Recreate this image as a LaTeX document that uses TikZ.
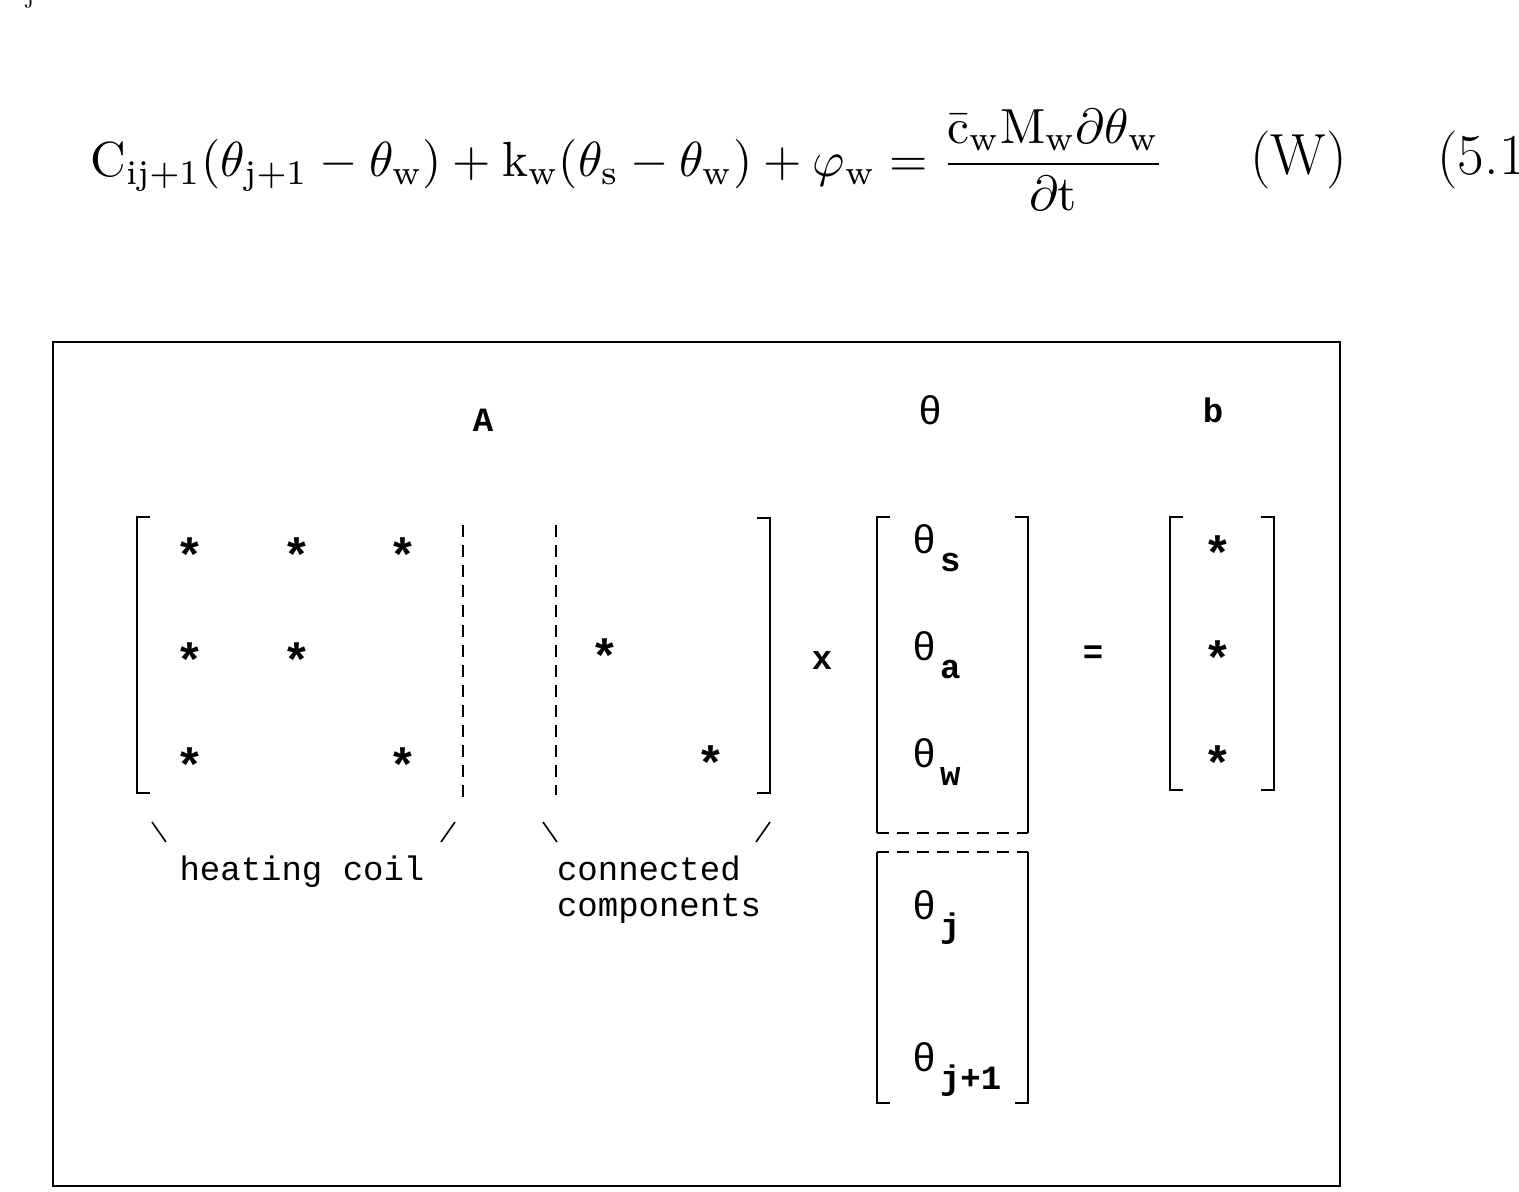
\documentclass[tikz,border=0pt]{standalone}
\usepackage{fontspec}
\setmonofont{Liberation Mono}
\usepackage{graphicx}
\begin{document}
\begin{tikzpicture}[x=0.5pt,y=-0.5pt,
  mono/.style={font=\fontsize{17}{20}\selectfont\ttfamily},
  bmono/.style={font=\fontsize{17}{20}\selectfont\ttfamily\bfseries},
  star/.style={font=\fontsize{24}{24}\selectfont\ttfamily\bfseries},
  br/.style={line width=0.8pt},
  dsh/.style={line width=0.8pt,dash pattern=on 6pt off 4pt}]
\useasboundingbox (0,0) rectangle (1519,1191);
% top fragment
\node (frag) at (30,-4) {\fontsize{14}{14}\selectfont j};
% equation
\node[anchor=west,inner sep=0] (eq) at (90,160) {\resizebox{537pt}{!}{$\displaystyle\mathrm{C}_{\mathrm{ij+1}}(\theta_{\mathrm{j+1}}-\theta_{\mathrm{w}})+\mathrm{k}_{\mathrm{w}}(\theta_{\mathrm{s}}-\theta_{\mathrm{w}})+\varphi_{\mathrm{w}}=\frac{\bar{\mathrm{c}}_{\mathrm{w}}\mathrm{M}_{\mathrm{w}}\partial\theta_{\mathrm{w}}}{\partial\mathrm{t}}$}};
\node[anchor=west,inner sep=0] (W) at (1250,160) {\fontsize{29}{30}\selectfont (W)};
\node[anchor=west,inner sep=0] (num) at (1437,160) {\fontsize{29}{30}\selectfont (5.17)};
% frame
\draw[line width=0.8pt] (53,342) rectangle (1340,1186);
% labels
\node[bmono] (lA) at (483,420) {A};
\node[font=\fontsize{20}{20}\selectfont\ttfamily] (lT) at (930,410) {θ};
\node[bmono] (lb) at (1213,410) {b};
% matrix A brackets
\draw[br] (150,517) -- (137,517) -- (137,793) -- (150,793);
\draw[br] (757,518) -- (770,518) -- (770,793) -- (757,793);
\draw[dsh] (463,525) -- (463,800);
\draw[dsh] (556,525) -- (556,795);
\foreach \x/\y in {190/555,297/555,403/555,190/660,297/660,190/765,403/765,605/656,711/763}
  \node[star] at (\x,\y) {*};
% slashes
\draw[br] (152,822) -- (166,842);
\draw[br] (455,822) -- (441,842);
\draw[br] (543,822) -- (557,842);
\draw[br] (770,822) -- (756,842);
\node[mono] (hc) at (302,872) {heating coil};
\node[mono,anchor=west,align=left] (cc) at (550,890) {connected\\[-2pt]components};
% x
\node[bmono] (times) at (822,660) {x};
% theta vector
\draw[br] (890,517) -- (877,517) -- (877,833);
\draw[br] (1015,517) -- (1028,517) -- (1028,833);
\draw[dsh] (877,833) -- (1028,833);
\draw[dsh] (877,852) -- (1028,852);
\draw[br] (877,852) -- (877,1103) -- (890,1103);
\draw[br] (1028,852) -- (1028,1103) -- (1015,1103);
\foreach \y/\s in {548/s,655/a,762/w,918/j,1070/j+1}
  \node[font=\fontsize{20}{20}\selectfont\ttfamily,anchor=west] at (905,\y) {θ\hspace{2pt}\raisebox{-0.45em}{\fontsize{17}{17}\selectfont\textbf{\s}}};
% equals
\node[bmono] (eqs) at (1093,655) {=};
% b vector
\draw[br] (1183,517) -- (1170,517) -- (1170,790) -- (1183,790);
\draw[br] (1261,517) -- (1274,517) -- (1274,790) -- (1261,790);
\foreach \y in {553,658,763} \node[star] at (1218,\y) {*};
\end{tikzpicture}
\end{document}
